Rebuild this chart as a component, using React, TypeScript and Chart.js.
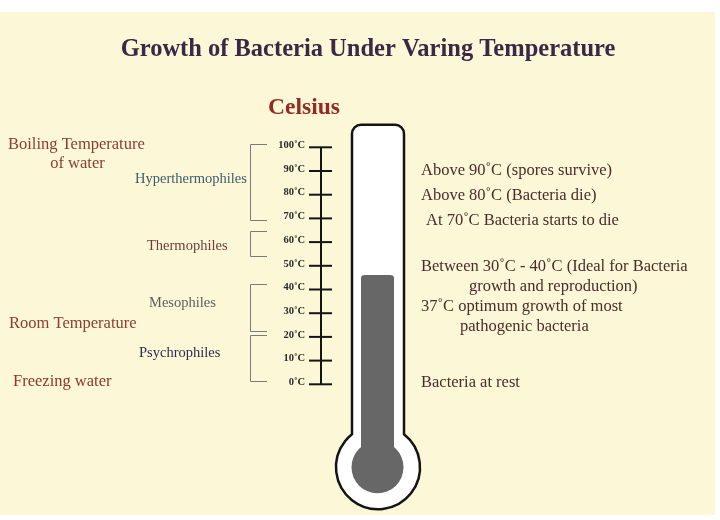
import React, { useEffect, useRef } from 'react';
import { Chart, registerables } from 'chart.js';

Chart.register(...registerables);

// ---- data ----
const categories = ['Mercury'];
const mercuryLevel = [46];
const tickValues = [0, 10, 20, 30, 40, 50, 60, 70, 80, 90, 100];
const tickLabels = ['0˚C', '10˚C', '20˚C', '30˚C', '40˚C', '50˚C', '60˚C', '70˚C', '80˚C', '90˚C', '100˚C'];
const groupNames = ['Hyperthermophiles', 'Thermophiles', 'Mesophiles', 'Psychrophiles'];
const groupFrom = [69.5, 54, 22.5, 1.5];
const groupTo = [101.5, 64.5, 42.5, 21];
const leftNotes = ['Boiling Temperature', 'of water', 'Room Temperature', 'Freezing water'];
const rightNotes = [
  'Above 90˚C (spores survive)',
  'Above 80˚C (Bacteria die)',
  'At 70˚C Bacteria starts to die',
  'Between 30˚C - 40˚C (Ideal for Bacteria',
  'growth and reproduction)',
  '37˚C optimum growth of most',
  'pathogenic bacteria',
  'Bacteria at rest',
];
const titleText = 'Growth of Bacteria Under Varing Temperature';
const unitText = 'Celsius';

// ---- layout / style ----
const SERIF = "'Liberation Serif', 'DejaVu Serif', serif";
const CREAM = 'rgb(252, 247, 215)';
const TY = 1.5; // text vertical nudge
const groupColors = ['#3b5c6a', '#6e3c3a', '#5e5e5e', '#2e2b4e'];
const groupLayout = [
  { x: 135, y: 178 },
  { x: 147, y: 245 },
  { x: 149, y: 302 },
  { x: 139, y: 352 },
];
const leftLayout = [
  { x: 8, y: 143, align: 'left' },
  { x: 77.5, y: 162, align: 'center' },
  { x: 9, y: 322, align: 'left' },
  { x: 13, y: 380, align: 'left' },
];
const leftColors = ['#8a3e31', '#8a3e31', '#8a3e31', '#8e3627'];
const rightLayout = [
  { x: 421, y: 169 },
  { x: 421, y: 194 },
  { x: 426, y: 219 },
  { x: 421, y: 265 },
  { x: 469, y: 285 },
  { x: 421, y: 305 },
  { x: 460, y: 325 },
  { x: 421, y: 381 },
];

const thermoPlugin = {
  id: 'thermo',
  beforeDraw(chart: any) {
    const { ctx, width, height } = chart;
    ctx.save();
    ctx.fillStyle = '#ffffff';
    ctx.fillRect(0, 0, width, height);
    ctx.fillStyle = CREAM;
    ctx.fillRect(0, 12, 715, 503);
    ctx.restore();
  },
  beforeDatasetsDraw(chart: any) {
    const { ctx } = chart;
    const y = chart.scales.y;
    const bar = chart.getDatasetMeta(0).data[0];
    const cx = bar.x + 0.5;
    const half = 26;
    const top = y.getPixelForValue(109.5);
    const cy = y.getPixelForValue(-35);
    const R = 42;
    const dy = Math.sqrt(R * R - half * half);
    const r = 9;
    ctx.save();
    ctx.beginPath();
    ctx.moveTo(cx - half, cy - dy);
    ctx.lineTo(cx - half, top + r);
    ctx.arcTo(cx - half, top, cx - half + r, top, r);
    ctx.lineTo(cx + half - r, top);
    ctx.arcTo(cx + half, top, cx + half, top + r, r);
    ctx.lineTo(cx + half, cy - dy);
    const a = Math.atan2(-dy, half);
    ctx.arc(cx, cy, R, a, Math.PI - a, false);
    ctx.closePath();
    ctx.fillStyle = '#ffffff';
    ctx.fill();
    ctx.lineWidth = 2.5;
    ctx.strokeStyle = '#141414';
    ctx.stroke();
    ctx.beginPath();
    ctx.arc(bar.x, cy, 26, 0, Math.PI * 2);
    ctx.fillStyle = '#676767';
    ctx.fill();
    ctx.restore();
  },
  afterDraw(chart: any) {
    const { ctx } = chart;
    const y = chart.scales.y;
    ctx.save();
    // title
    ctx.textBaseline = 'middle';
    ctx.textAlign = 'center';
    ctx.fillStyle = '#3b2846';
    ctx.font = `bold 24.5px ${SERIF}`;
    ctx.fillText(titleText, 368, 48 + TY);
    ctx.fillStyle = '#932b22';
    ctx.font = `bold 23.5px ${SERIF}`;
    ctx.fillText(unitText, 304, 106 + TY);

    // scale
    const axisX = 321;
    ctx.strokeStyle = '#141414';
    ctx.lineWidth = 2;
    ctx.beginPath();
    ctx.moveTo(axisX, y.getPixelForValue(tickValues[tickValues.length - 1]));
    ctx.lineTo(axisX, y.getPixelForValue(tickValues[0]));
    ctx.stroke();
    ctx.font = `bold 10.5px ${SERIF}`;
    ctx.textAlign = 'right';
    ctx.fillStyle = '#2a2a2a';
    tickValues.forEach((v, i) => {
      const py = y.getPixelForValue(v);
      ctx.beginPath();
      ctx.moveTo(309, py);
      ctx.lineTo(332, py);
      ctx.stroke();
      ctx.fillText(tickLabels[i], 305, py - 2);
    });

    // brackets
    ctx.strokeStyle = '#7a7a7a';
    ctx.lineWidth = 1;
    groupNames.forEach((_, i) => {
      const y1 = Math.round(y.getPixelForValue(groupTo[i])) + 0.5;
      const y2 = Math.round(y.getPixelForValue(groupFrom[i])) + 0.5;
      ctx.beginPath();
      ctx.moveTo(267, y1);
      ctx.lineTo(250.5, y1);
      ctx.lineTo(250.5, y2);
      ctx.lineTo(267, y2);
      ctx.stroke();
    });

    // group labels
    ctx.textAlign = 'left';
    ctx.font = `14.5px ${SERIF}`;
    groupNames.forEach((name, i) => {
      ctx.fillStyle = groupColors[i];
      ctx.fillText(name, groupLayout[i].x, groupLayout[i].y + TY);
    });

    // left notes
    ctx.font = `16.5px ${SERIF}`;
    leftNotes.forEach((t, i) => {
      ctx.fillStyle = leftColors[i];
      ctx.textAlign = leftLayout[i].align as CanvasTextAlign;
      ctx.fillText(t, leftLayout[i].x, leftLayout[i].y + TY);
    });

    // right notes
    ctx.textAlign = 'left';
    ctx.font = `16.5px ${SERIF}`;
    ctx.fillStyle = '#4a2c2c';
    rightNotes.forEach((t, i) => {
      ctx.fillText(t, rightLayout[i].x, rightLayout[i].y + TY);
    });
    ctx.restore();
  },
};

export default function App() {
  const ref = useRef<HTMLCanvasElement | null>(null);
  useEffect(() => {
    if (!ref.current) return;
    const chart = new Chart(ref.current, {
      type: 'bar',
      data: {
        labels: categories,
        datasets: [
          {
            label: 'Mercury',
            data: mercuryLevel,
            base: -35,
            backgroundColor: '#676767',
            borderRadius: { topLeft: 4, topRight: 4, bottomLeft: 0, bottomRight: 0 },
            borderSkipped: false,
            barPercentage: 1,
            categoryPercentage: 1,
          } as any,
        ],
      },
      options: {
        animation: false,
        responsive: true,
        maintainAspectRatio: false,
        layout: { padding: { left: 361, right: 326, top: 123.6, bottom: 17.2 } },
        plugins: { legend: { display: false }, tooltip: { enabled: false }, title: { display: false } },
        scales: {
          x: { display: false },
          y: { display: false, min: -50, max: 110 },
        },
      },
      plugins: [thermoPlugin],
    });
    return () => chart.destroy();
  }, []);
  return (
    <div style={{ position: 'fixed', left: 0, top: 0, width: 720, height: 520 }}>
      <canvas ref={ref} />
    </div>
  );
}
